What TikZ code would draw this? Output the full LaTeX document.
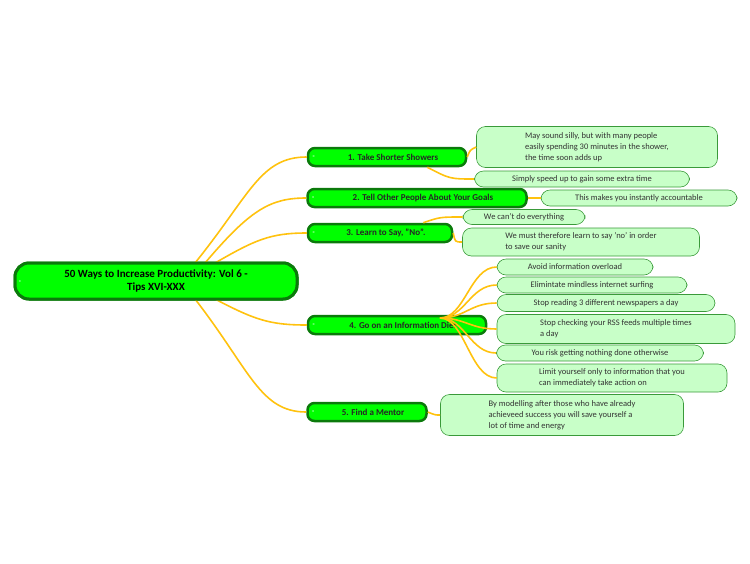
\documentclass[tikz,border=0pt]{standalone}
\usepackage{fontspec}
\setmainfont{Carlito}
\definecolor{mainfill}{HTML}{00FF00}
\definecolor{mainline}{HTML}{0B7A0B}
\definecolor{leaffill}{HTML}{C8FFC8}
\definecolor{leafline}{HTML}{3A9A3A}
\definecolor{linkcol}{HTML}{FFC20E}
\tikzset{
  rootbox/.style={draw=mainline, fill=mainfill, line width=3pt, rounded corners=14pt, font=\fontsize{11}{13}\selectfont\bfseries, align=center, inner sep=0pt},
  topicbox/.style={draw=mainline, fill=mainfill, line width=2.5pt, rounded corners=7pt, font=\fontsize{9}{10}\selectfont\bfseries, inner sep=0pt, text=black!85},
  leafbox/.style={draw=leafline, fill=leaffill, line width=0.6pt, rounded corners=9pt, font=\fontsize{8.5}{11}\selectfont, align=left, inner sep=0pt, text=black!80},
  link/.style={draw=linkcol, line width=1.6pt},
  minus/.style={font=\fontsize{7}{7}\selectfont\bfseries, text=white, inner sep=0pt}
}
\begin{document}
\begin{tikzpicture}[x=1pt,y=-1pt]
    \useasboundingbox (0,0) rectangle (750,563);

    % central node
    \node[rootbox, minimum width=282pt, minimum height=36pt] (root) at (156,281)
        {50 Ways to Increase Productivity: Vol 6 -\\Tips XVI-XXX};
    \node[minus] at (20,282) {-};

    % main topics
    \node[topicbox, minimum width=158pt, minimum height=18pt] (t1) at (387,157) {\hspace*{12pt}1. Take Shorter Showers};
    \node[topicbox, minimum width=219pt, minimum height=18pt] (t2) at (417,198) {\hspace*{12pt}2. Tell Other People About Your Goals};
    \node[topicbox, minimum width=144pt, minimum height=18pt] (t3) at (380,233) {\hspace*{12pt}3. Learn to Say, "No".};
    \node[topicbox, minimum width=178pt, minimum height=18pt] (t4) at (397,325) {\hspace*{12pt}4. Go on an Information Diet};
    \node[topicbox, minimum width=119pt, minimum height=18pt] (t5) at (367,412) {\hspace*{12pt}5. Find a Mentor};
    \foreach \n in {t1,t2,t3,t4,t5}
        \node[minus] at ([xshift=7pt]\n.west) {-};

    % details
    \node[leafbox, minimum width=241pt, minimum height=41pt] (l1a) at (597,147)
        {May sound silly, but with many people\\easily spending 30 minutes in the shower,\\the time soon adds up};
    \node[leafbox, minimum width=215pt, minimum height=16pt] (l1b) at (582,179) {Simply speed up to gain some extra time};
    \node[leafbox, minimum width=196pt, minimum height=16pt] (l2) at (639,198) {This makes you instantly accountable};
    \node[leafbox, minimum width=122pt, minimum height=15pt] (l3a) at (524,217) {We can't do everything};
    \node[leafbox, minimum width=237pt, minimum height=28pt] (l3b) at (581,242) {We must therefore learn to say 'no' in order\\to save our sanity};
    \node[leafbox, minimum width=156pt, minimum height=16pt] (l4a) at (575,267) {Avoid information overload};
    \node[leafbox, minimum width=190pt, minimum height=16pt] (l4b) at (592,285) {Elimintate mindless internet surfing};
    \node[leafbox, minimum width=218pt, minimum height=17pt] (l4c) at (606,303) {Stop reading 3 different newspapers a day};
    \node[leafbox, minimum width=238pt, minimum height=29pt] (l4d) at (616,329) {Stop checking your RSS feeds multiple times\\a day};
    \node[leafbox, minimum width=207pt, minimum height=16pt] (l4e) at (600,353) {You risk getting nothing done otherwise};
    \node[leafbox, minimum width=230pt, minimum height=28pt] (l4f) at (612,378) {Limit yourself only to information that you\\can immediately take action on};
    \node[leafbox, minimum width=243pt, minimum height=41pt] (l5) at (562,415) {By modelling after those who have already\\achieveed success you will save yourself a\\lot of time and energy};

    % links from the centre
    \begin{scope}[on background layer/.try]
    \end{scope}
    \path[link] (195,263) .. controls (250,195) and (260,157) .. (t1.west);
    \path[link] (205,263) .. controls (250,210) and (270,198) .. (t2.west);
    \path[link] (215,263) .. controls (255,240) and (270,233) .. (t3.west);
    \path[link] (215,299) .. controls (255,320) and (270,325) .. (t4.west);
    \path[link] (195,299) .. controls (250,370) and (260,412) .. (t5.west);

    % links to details
    \path[link] (t1.east) .. controls (470,150) .. (l1a.west);
    \path[link] ([xshift=-40pt]t1.south east) .. controls (450,179) .. (l1b.west);
    \path[link] (t2.east) -- (l2.west);
    \path[link] ([xshift=-30pt]t3.north east) .. controls (440,217) .. (l3a.west);
    \path[link] (t3.east) .. controls (455,242) .. (l3b.west);
    \foreach \l in {l4a,l4b,l4c,l4d,l4e,l4f}
        \path[link] (440,318) .. controls (465,318) and (470,0 |- \l.west) .. (\l.west);
    \path[link] (t5.east) .. controls (435,415) .. (l5.west);

    % redraw boxes over links
    \node[rootbox, minimum width=282pt, minimum height=36pt] at (156,281)
        {50 Ways to Increase Productivity: Vol 6 -\\Tips XVI-XXX};
    \node[minus] at (20,282) {-};
\end{tikzpicture}
\end{document}
